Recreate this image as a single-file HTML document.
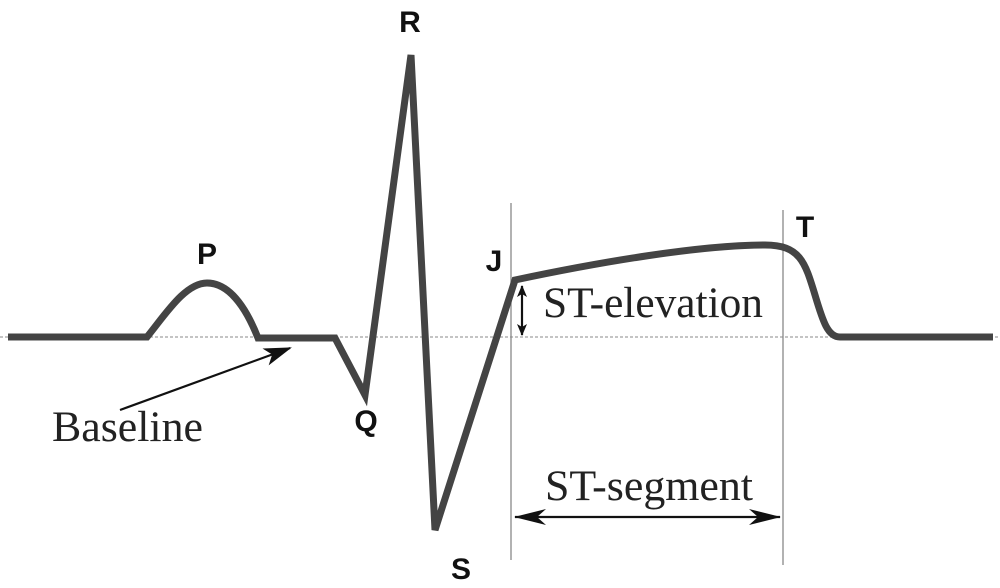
<!DOCTYPE html>
<html><head><style>body{margin:0;background:#fff}svg{display:block}</style></head><body>
<svg width="1000" height="588" viewBox="0 0 1000 588" xmlns="http://www.w3.org/2000/svg">
<defs>
<marker id="ah" markerWidth="12" markerHeight="10" refX="11" refY="5" orient="auto-start-reverse" markerUnits="userSpaceOnUse"><path d="M0,0 L12,5 L0,10 L3,5z" fill="#111"/></marker>
<marker id="big" markerWidth="28" markerHeight="18" refX="26" refY="9" orient="auto" markerUnits="userSpaceOnUse"><path d="M0,0 L28,9 L0,18 L7,9z" fill="#111"/></marker>
<marker id="st" markerWidth="32" markerHeight="16" refX="31" refY="8" orient="auto-start-reverse" markerUnits="userSpaceOnUse"><path d="M0,0 L32,8 L0,16 L9,8z" fill="#111"/></marker>
</defs>
<line x1="0" y1="337" x2="1000" y2="337" stroke="#888" stroke-width="1" stroke-dasharray="3,2"/>
<line x1="511" y1="203" x2="511" y2="560" stroke="#888" stroke-width="1.3"/>
<line x1="783" y1="210" x2="783" y2="565" stroke="#888" stroke-width="1.3"/>
<path d="M8,337 L147,337 C165,315 185,283 207,283 C228,283 245,305 258,338 L335,338 L365,395 L411,55 L435,530 L515,280 C600,262 700,245 765,245 C800,245 805,262 815,295 C823,322 828,337 840,337 L993,337" fill="none" stroke="#444" stroke-width="7" stroke-linejoin="miter"/>
<line x1="120" y1="410" x2="290" y2="348" stroke="#111" stroke-width="2.2" marker-end="url(#big)"/>
<line x1="522" y1="286" x2="522" y2="335" stroke="#111" stroke-width="2.2" marker-end="url(#ah)" marker-start="url(#ah)"/>
<line x1="515" y1="517" x2="780" y2="517" stroke="#111" stroke-width="2.2" marker-end="url(#st)" marker-start="url(#st)"/>
<g font-family="Liberation Sans, sans-serif" font-weight="bold" font-size="30" fill="#111" text-anchor="middle">
<text x="410" y="32">R</text><text x="207" y="264">P</text><text x="366" y="431">Q</text>
<text x="461" y="579">S</text><text x="494" y="271">J</text><text x="805" y="237">T</text>
</g>
<g font-family="Liberation Serif, serif" font-size="43" fill="#222">
<text x="52" y="441" textLength="151" lengthAdjust="spacingAndGlyphs">Baseline</text>
<text x="543" y="317" textLength="220" lengthAdjust="spacingAndGlyphs">ST-elevation</text>
<text x="545" y="500" textLength="208" lengthAdjust="spacingAndGlyphs">ST-segment</text>
</g>
</svg>
</body></html>
